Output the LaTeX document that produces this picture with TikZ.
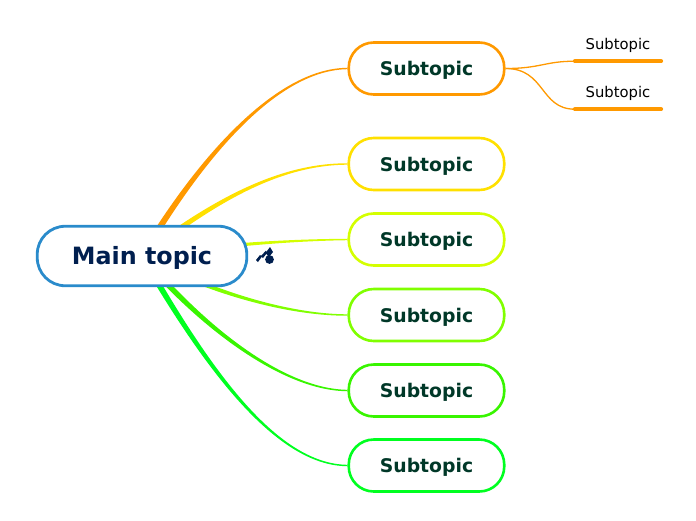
\documentclass[tikz,border=0pt]{standalone}
\usepackage{fontspec}
\setmainfont{DejaVu Sans}
\usetikzlibrary{backgrounds,calc}
\definecolor{cmain}{HTML}{2A8BCB}
\definecolor{cmaintext}{HTML}{001F4F}
\definecolor{csubtext}{HTML}{003828}
\definecolor{ca}{HTML}{FF9900}
\definecolor{cb}{HTML}{FFE000}
\definecolor{cc}{HTML}{D4FF00}
\definecolor{cd}{HTML}{80FF00}
\definecolor{ce}{HTML}{38F500}
\definecolor{cf}{HTML}{00FF20}
\tikzset{
  maintopic/.style={draw=cmain,line width=2.8pt,fill=white,rounded corners=28pt,minimum width=209.5pt,minimum height=59.5pt,inner sep=0pt,text=cmaintext,font=\fontsize{23.8}{28}\selectfont\bfseries},
  subtopic/.style={draw=#1,line width=2.6pt,fill=white,rounded corners=25pt,minimum width=155.5pt,minimum height=52pt,inner sep=0pt,text=csubtext,font=\fontsize{18.8}{22}\selectfont\bfseries},
  leaftopic/.style={minimum width=86pt,minimum height=22pt,inner sep=0pt,text=black,font=\fontsize{14.8}{18}\selectfont},
  leafline/.style={line width=3.8pt,line cap=round,ca},
  leaflink/.style={line width=1.3pt,ca},
}
% main node, colour, start offset dx, dy, control 1, control 2, target node
\newcommand{\taper}[7]{%
  \fill[#1] ($(#2)+(#3,#4)$) .. controls ($(#5)+(#3*0.75,#4*0.75)$) and ($(#6)+(0,1)$) .. ($(#7.west)+(0,0.7)$)
    -- ($(#7.west)+(0,-0.7)$) .. controls ($(#6)+(0,-1)$) and ($(#5)+(-#3*0.75,-#4*0.75)$) .. ($(#2)+(-#3,-#4)$) -- cycle;}
\newcommand{\mainlabel}[1]{\raisebox{-8.5pt}[0pt][0pt]{#1}}
\newcommand{\sublabel}[1]{\raisebox{-7pt}[0pt][0pt]{#1}}
\newcommand{\leaflabel}[1]{\raisebox{1pt}[0pt][0pt]{#1}}
\begin{document}
\begin{tikzpicture}[x=1pt,y=-1pt]
\useasboundingbox (0,0) rectangle (696,520);
\node[maintopic] (main) at (142,256) {\mainlabel{Main topic}};
\node[subtopic=ca] (s1) at (426.5,68.5) {\sublabel{Subtopic}};
\node[subtopic=cb] (s2) at (426.5,164) {\sublabel{Subtopic}};
\node[subtopic=cc] (s3) at (426.5,239.5) {\sublabel{Subtopic}};
\node[subtopic=cd] (s4) at (426.5,315) {\sublabel{Subtopic}};
\node[subtopic=ce] (s5) at (426.5,390.5) {\sublabel{Subtopic}};
\node[subtopic=cf] (s6) at (426.5,465.5) {\sublabel{Subtopic}};
\node[leaftopic] (l1) at (618,50) {\leaflabel{Subtopic}};
\node[leaftopic] (l2) at (618,98) {\leaflabel{Subtopic}};
\begin{scope}[on background layer]
\taper{ca}{main.center}{2.8}{1.7}{205,150}{280,69}{s1}
\taper{cb}{main.center}{1.6}{2.6}{215,200}{280,164}{s2}
\taper{cc}{main.center}{0}{2.6}{220,245}{290,240}{s3}
\taper{cd}{main.center}{-1}{2.6}{205,290}{285,315}{s4}
\taper{ce}{main.center}{-2.2}{2.2}{205,330}{285,390}{s5}
\taper{cf}{main.center}{-2.6}{1.6}{205,365}{275,465}{s6}
\end{scope}
\draw[leafline] (l1.south west) -- (l1.south east);
\draw[leafline] (l2.south west) -- (l2.south east);
\draw[leaflink] (s1.east) .. controls ++(35,0) and ++(-30,0) .. (l1.south west);
\draw[leaflink] (s1.east) .. controls ++(40,0) and ++(-35,0) .. (l2.south west);
\fill[cmaintext] (269.5,259.5) circle (4.4);
\fill[cmaintext] (265.5,253) -- (270,247) -- (273,252) -- (269,257) -- cycle;
\fill[cmaintext] (256,260) -- (260,255) -- (262,256.5) -- (258,262) -- cycle;
\fill[cmaintext] (261,256) -- (266,250.5) -- (267,253) -- (263,258) -- cycle;
\end{tikzpicture}
\end{document}
